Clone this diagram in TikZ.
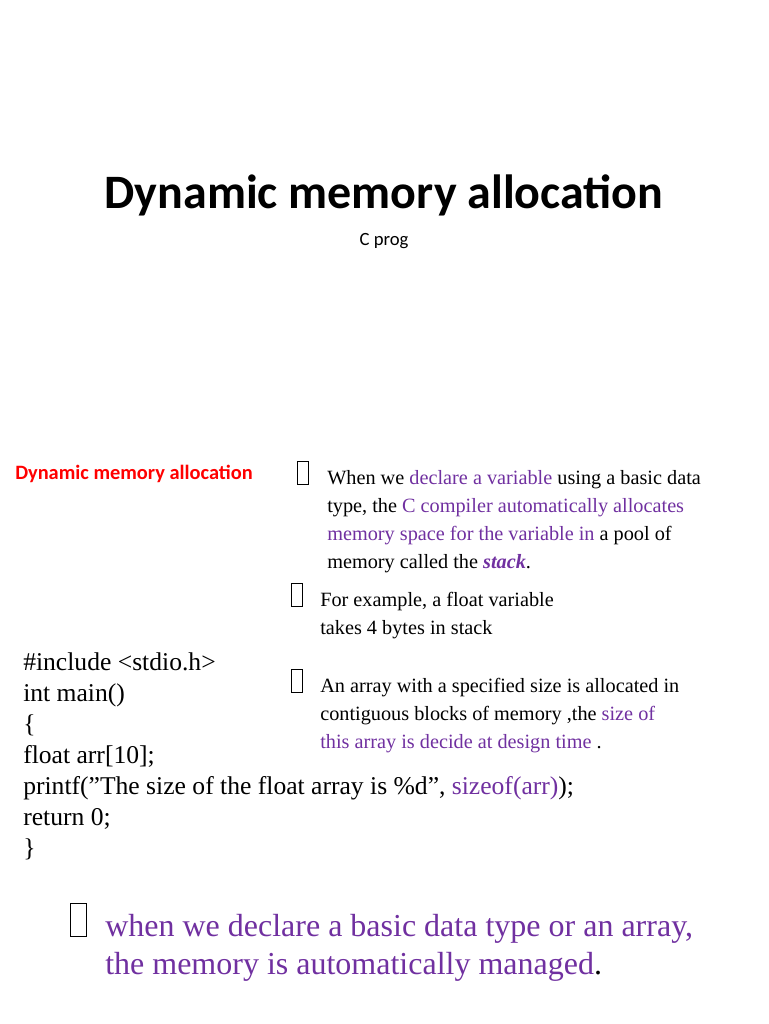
\documentclass[tikz,border=0pt]{standalone}
\usepackage{fontspec}
\setmainfont{Liberation Serif}
\newfontfamily\calibri{Carlito}
\usetikzlibrary{positioning}
\definecolor{violet}{HTML}{7030A0}
\definecolor{redtitle}{HTML}{FF0000}
\newcommand{\tofu}{\tikz[baseline=0pt]\draw[line width=0.5pt] (0,0) rectangle (0.55em,1.15em);}
\newcommand{\pu}[1]{\textcolor{violet}{#1}}
\tikzset{
  body/.style={anchor=base west, inner sep=0pt, align=left, font=\fontsize{15.2}{21}\selectfont},
  code/.style={anchor=base west, inner sep=0pt, align=left, font=\fontsize{19.2}{23.25}\selectfont},
  bullet/.style={anchor=base west, inner sep=0pt}
}
\begin{document}
\begin{tikzpicture}[x=0.75pt,y=-0.75pt]
  \useasboundingbox (0,0) rectangle (768,1024);
  % titles
  \node[anchor=base, inner sep=0pt, font=\calibri\bfseries\fontsize{36}{42}\selectfont] (title) at (384,208) {Dynamic memory allocation};
  \node[anchor=base, inner sep=0pt, font=\calibri\fontsize{14}{17}\selectfont] (sub) at (384,245) {C prog};
  \node[anchor=base west, inner sep=0pt, text=redtitle, font=\calibri\bfseries\fontsize{15.3}{18}\selectfont] (side) at (15,479) {Dynamic memory allocation};

  % bullets on the right (multi-line nodes sit on their last baseline)
  \node[bullet, font=\fontsize{15}{21}\selectfont] (b1) at (297,484) {\tofu};
  \node[body] (t1) at (327,568) {When we \pu{declare a variable} using a basic data\\type, the \pu{C compiler automatically allocates}\\\pu{memory space for the variable in} a pool of\\memory called the \textcolor{violet}{\bfseries\itshape stack}.};
  \node[bullet, font=\fontsize{15}{21}\selectfont] (b2) at (291,606) {\tofu};
  \node[body] (t2) at (320,634) {For example, a float variable\\takes 4 bytes in stack};
  \node[bullet, font=\fontsize{15}{21}\selectfont] (b3) at (291,692) {\tofu};
  \node[body] (t3) at (320,748) {An array with a specified size is allocated in\\contiguous blocks of memory ,the \pu{size of}\\\pu{this array is decide at design time} .};

  % code
  \node[code] (src) at (23,856) {\#include <stdio.h>\\int main()\\\{\\float arr[10];\\printf(\symbol{34}The size of the float array is \%d\symbol{34}, \pu{sizeof(arr)});\\ return 0;\\\}};

  % conclusion
  \node[bullet, font=\fontsize{21}{28.5}\selectfont] (b4) at (70,936) {\tofu};
  \node[anchor=base west, inner sep=0pt, align=left, font=\fontsize{24}{28.5}\selectfont] (t4) at (105,974) {\pu{when we declare a basic data type or an array,}\\\pu{the memory is automatically managed}.};
\end{tikzpicture}
\end{document}
